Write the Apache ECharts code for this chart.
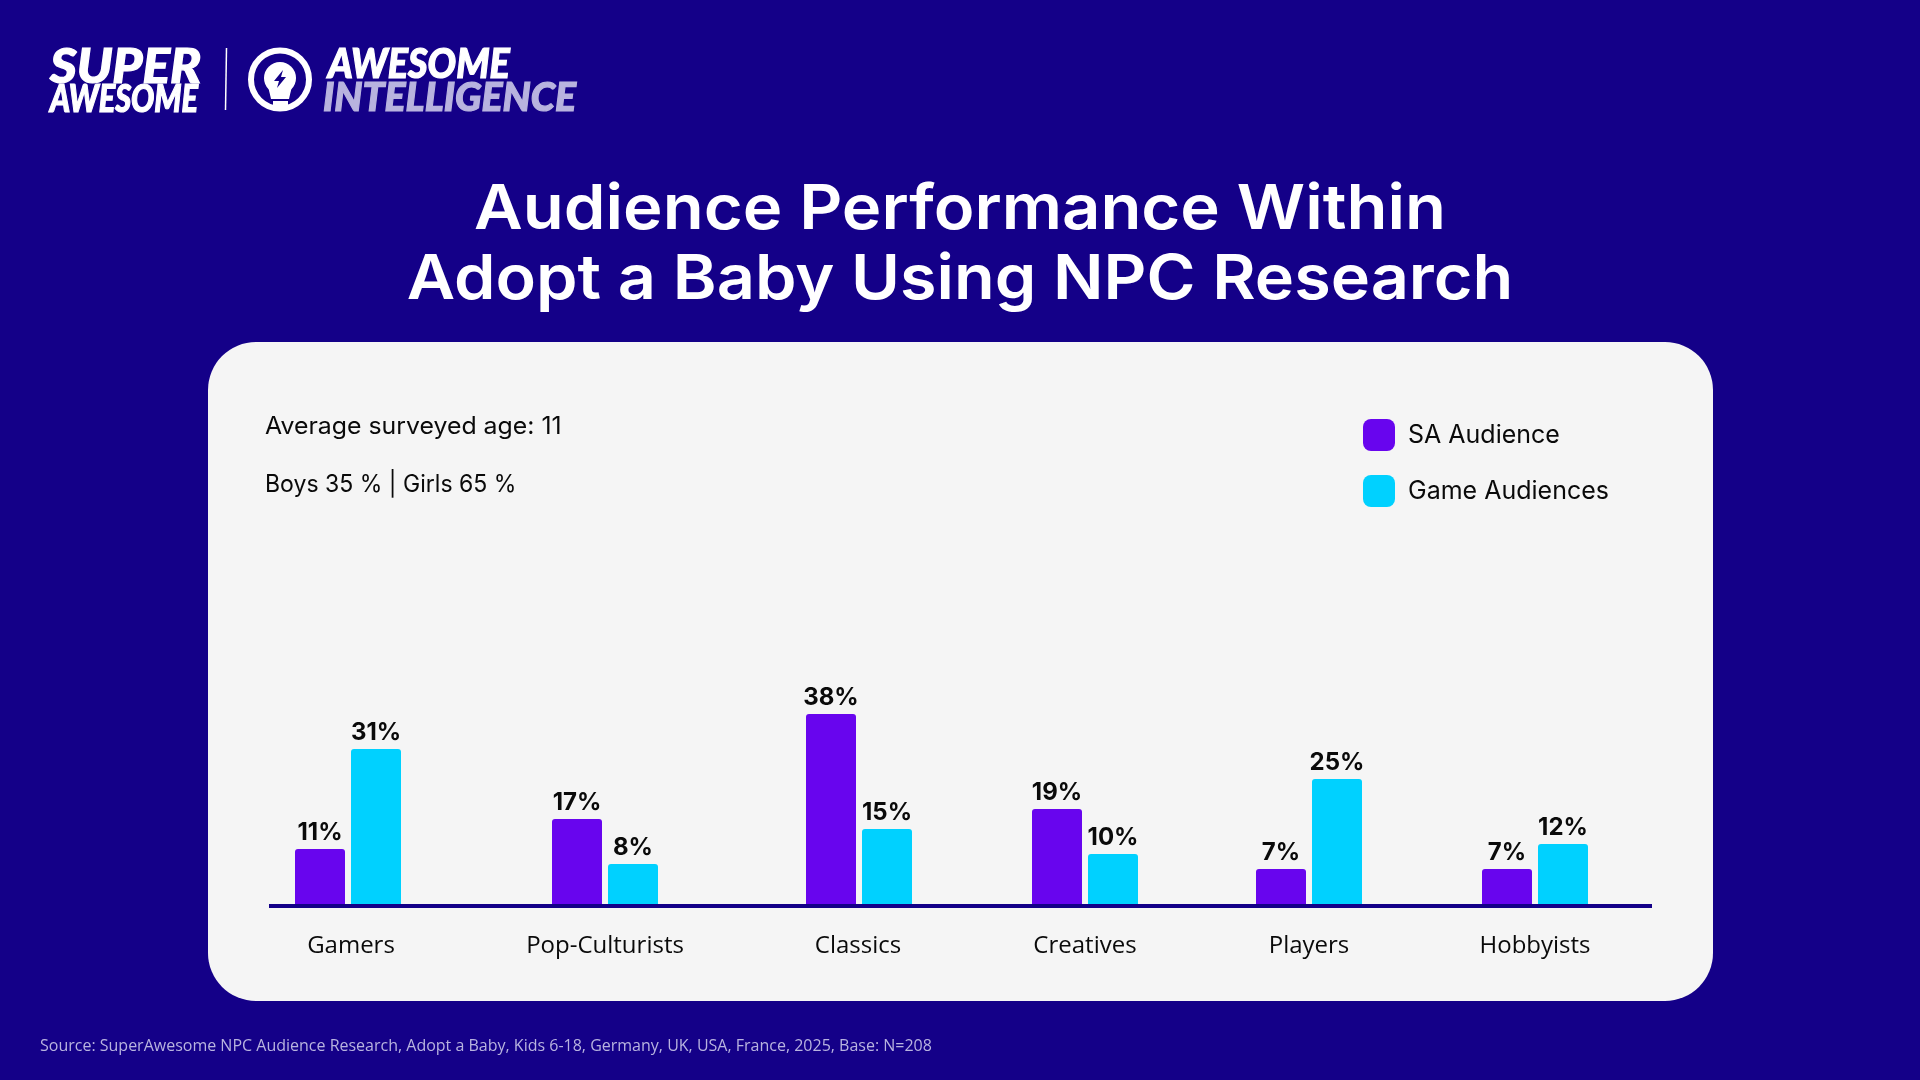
<!DOCTYPE html>
<html>
<head>
<meta charset="utf-8">
<title>Audience Performance Within Adopt a Baby</title>
<script src="https://cdn.jsdelivr.net/npm/echarts@6/dist/echarts.min.js"></script>
<style>
html,body{margin:0;padding:0;background:#140088}
#chart{width:1920px;height:1080px}
</style>
</head>
<body>
<div id="chart"></div>
<script>
// Chart data
const categories = ['Gamers', 'Pop-Culturists', 'Classics', 'Creatives', 'Players', 'Hobbyists'];
const saAudience = [11, 17, 38, 19, 7, 7];
const gameAudiences = [31, 8, 15, 10, 25, 12];
const seriesNames = ['SA Audience', 'Game Audiences'];

// Groups are not evenly spaced along the baseline, so x runs on a value axis
const groupPositions = [79, 336, 590, 816, 1040, 1266];
const labelPositions = [82, 336, 589, 816, 1040, 1266];

const NAVY = '#140088', PURPLE = '#6805EE', CYAN = '#00D1FF', PANEL = '#F5F5F5';
const HEAD_FONT = 'Inter', BODY_FONT = '"Open Sans"', LOGO_FONT = 'Lato';

const toPoints = values => values.map((v, i) => [groupPositions[i], v]);

const barSeries = (name, values, color) => ({
  name,
  type: 'bar',
  data: toPoints(values),
  barWidth: 50,
  barGap: '12%',
  itemStyle: { color, borderRadius: [3, 3, 0, 0] },
  label: {
    show: true,
    position: 'top',
    distance: 4,
    formatter: p => p.value[1] + '%',
    fontFamily: HEAD_FONT,
    fontWeight: 700,
    fontSize: 24,
    color: '#0A0A0A'
  }
});

// Wordmark text, stretched per line to fit the lockup
const logoText = (text, x, y, size, fill, scaleX) => ({
  type: 'text', x, y, scaleX, originX: 0,
  style: { text, fill, stroke: fill, lineWidth: 1.2, font: `italic 900 ${size}px ${LOGO_FONT}`, textVerticalAlign: 'middle' }
});

// Headline and note text, widened or narrowed per line to set width
const headline = (text, y, scaleX) => ({
  type: 'text', x: 960, y, scaleX, originX: 0,
  style: { text, fill: '#FFFFFF', font: `600 62px ${HEAD_FONT}`, textAlign: 'center', textVerticalAlign: 'middle' }
});
const note = (text, y, scaleX) => ({
  type: 'text', x: 265, y, scaleX, originX: 0,
  style: { text, fill: '#0A0A0A', font: `400 24px ${HEAD_FONT}`, textVerticalAlign: 'middle' }
});

const chart = echarts.init(document.getElementById('chart'), null, { renderer: 'canvas' });
chart.setOption({
  animation: false,
  backgroundColor: NAVY,
  legend: {
    orient: 'vertical',
    left: 1363,
    top: 419,
    padding: 0,
    itemWidth: 32,
    itemHeight: 32,
    itemGap: 24,
    icon: 'roundRect',
    data: seriesNames,
    selectedMode: false,
    textStyle: { fontFamily: HEAD_FONT, fontSize: 25, color: '#0A0A0A', padding: [7, 0, 0, 8] }
  },
  grid: { left: 269, top: 604, width: 1383, height: 300 },
  xAxis: {
    type: 'value',
    min: 0,
    max: 1383,
    offset: 2,
    z: 5,
    splitLine: { show: false },
    axisLine: { show: true, onZero: false, lineStyle: { color: NAVY, width: 4, cap: 'butt' } },
    axisTick: { show: false },
    axisLabel: {
      customValues: labelPositions,
      formatter: v => categories[labelPositions.indexOf(v)],
      margin: 28,
      fontFamily: BODY_FONT,
      fontSize: 24,
      color: '#0A0A0A',
      hideOverlap: false
    }
  },
  yAxis: {
    type: 'value',
    min: 0,
    max: 60,
    show: false
  },
  graphic: { elements: [
    { type: 'rect', z: -10, shape: { x: 208, y: 342, width: 1505, height: 659, r: 48 }, style: { fill: PANEL } },
    headline('Audience Performance Within', 210, 1.08),
    headline('Adopt a Baby Using NPC Research', 280, 1.073),
    note('Average surveyed age: 11', 427, 1.035),
    note('Boys 35 % | Girls 65 %', 485, 0.96),
    { type: 'text', x: 40, y: 1046, style: { text: 'Source: SuperAwesome NPC Audience Research, Adopt a Baby, Kids 6-18, Germany, UK, USA, France, 2025, Base: N=208', fill: '#B8B3DF', font: `400 16px ${BODY_FONT}`, textVerticalAlign: 'middle' } },
    // Brand lockup
    logoText('SUPER', 50, 68, 48, '#FFFFFF', 1.07),
    logoText('AWESOME', 50, 100, 37, '#FFFFFF', 0.83),
    { type: 'line', shape: { x1: 226.5, y1: 48, x2: 225.5, y2: 110 }, style: { stroke: '#FFFFFF', lineWidth: 1.5 } },
    { type: 'circle', shape: { cx: 280, cy: 79.5, r: 29 }, style: { fill: 'none', stroke: '#FFFFFF', lineWidth: 6 } },
    { type: 'circle', shape: { cx: 280, cy: 78, r: 16 }, style: { fill: '#FFFFFF' } },
    { type: 'polygon', shape: { points: [[268, 86], [292, 86], [289, 99], [271, 99]] }, style: { fill: '#FFFFFF' } },
    { type: 'rect', shape: { x: 273, y: 101, width: 15, height: 8 }, style: { fill: '#FFFFFF' } },
    { type: 'polygon', shape: { points: [[283, 70], [274, 81], [279, 81], [277, 88], [286, 77], [281, 77]] }, style: { fill: NAVY } },
    logoText('AWESOME', 328, 65, 41, '#FFFFFF', 0.92),
    logoText('INTELLIGENCE', 323, 98, 40, '#B8B3DF', 0.98)
  ] },
  series: [
    barSeries(seriesNames[0], saAudience, PURPLE),
    barSeries(seriesNames[1], gameAudiences, CYAN)
  ]
});
</script>
</body>
</html>
